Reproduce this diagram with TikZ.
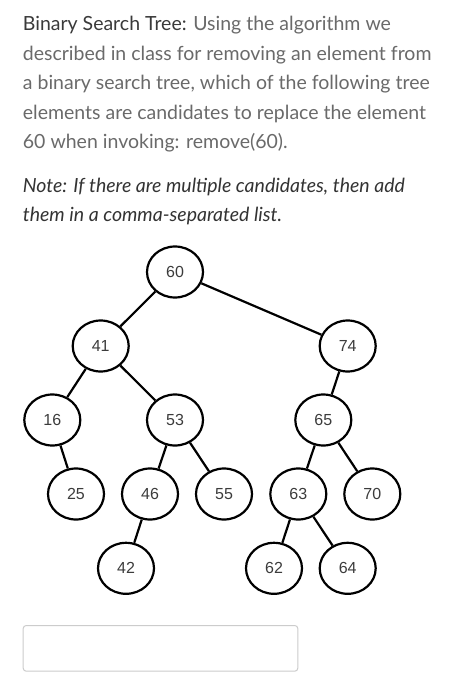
\documentclass[tikz,border=0pt]{standalone}
\usepackage{fontspec}
\setmainfont{Lato}
\newfontfamily\nodefont{Liberation Sans}
\definecolor{titlec}{HTML}{3A3A3A}
\definecolor{bodyc}{HTML}{6A6A6A}
\definecolor{notec}{HTML}{333333}
\definecolor{boxc}{HTML}{CCCCCC}
\definecolor{numc}{HTML}{3C3C3C}
\tikzset{
  bst/.style={ellipse, draw=black, line width=2.2pt, minimum width=56pt, minimum height=51pt, inner sep=0pt, font=\nodefont\fontsize{16}{16}\selectfont, text=numc},
  edge/.style={line width=2.2pt, black},
  txt/.style={anchor=base west, inner sep=0pt, font=\fontsize{19.5}{19.5}\selectfont, text=bodyc},
  notetxt/.style={anchor=base west, inner sep=0pt, font=\itshape\fontsize{19.5}{19.5}\selectfont, text=notec}
}
\usetikzlibrary{shapes.geometric}
\begin{document}
\begin{tikzpicture}[x=1pt,y=-1pt]
\useasboundingbox (0,0) rectangle (449,700);
\fill[white] (0,0) rectangle (449,700);
\node[txt] (l1) at (22.7,30.7) {\textcolor{titlec}{Binary Search Tree:} Using the algorithm we};
\node[txt] (l2) at (22.7,60.5) {described in class for removing an element from};
\node[txt] (l3) at (22.7,90) {a binary search tree, which of the following tree};
\node[txt] (l4) at (22.7,119.5) {elements are candidates to replace the element};
\node[txt] (l5) at (22.7,148.5) {60 when invoking: remove(60).};
\node[notetxt] (n1) at (22.7,193) {Note: If there are multiple candidates, then add};
\node[notetxt] (n2) at (22.7,222) {them in a comma-separated list.};
\node[bst] (a60) at (175,272) {60};
\node[bst] (a41) at (100.7,346) {41};
\node[bst] (a74) at (347.7,346) {74};
\node[bst] (a16) at (52.3,420) {16};
\node[bst] (a53) at (175,420) {53};
\node[bst] (a65) at (323.3,420) {65};
\node[bst] (a25) at (76,494) {25};
\node[bst] (a46) at (150,494) {46};
\node[bst] (a55) at (224,494) {55};
\node[bst] (a63) at (298.3,494) {63};
\node[bst] (a70) at (372.3,494) {70};
\node[bst] (a42) at (126,568.3) {42};
\node[bst] (a62) at (274,568.3) {62};
\node[bst] (a64) at (347.7,568.3) {64};
\draw[edge] (a60) -- (a41);
\draw[edge] (a60) -- (a74);
\draw[edge] (a41) -- (a16);
\draw[edge] (a41) -- (a53);
\draw[edge] (a74) -- (a65);
\draw[edge] (a16) -- (a25);
\draw[edge] (a53) -- (a46);
\draw[edge] (a53) -- (a55);
\draw[edge] (a65) -- (a63);
\draw[edge] (a65) -- (a70);
\draw[edge] (a46) -- (a42);
\draw[edge] (a63) -- (a62);
\draw[edge] (a63) -- (a64);
\node[draw=boxc, line width=1pt, rounded corners=3pt, minimum width=274.6pt, minimum height=45.7pt, inner sep=0pt, anchor=north west] (answer) at (22.7,625) {};
\end{tikzpicture}
\end{document}
